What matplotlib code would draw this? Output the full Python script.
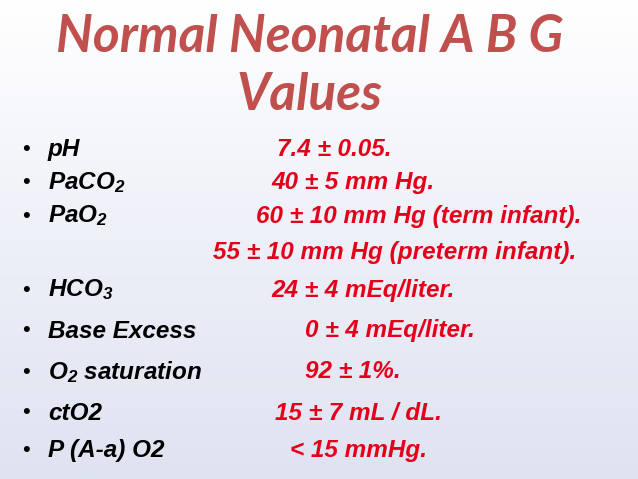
import matplotlib
matplotlib.use("Agg")
import matplotlib.pyplot as plt
import numpy as np
from matplotlib.colors import LinearSegmentedColormap

plt.rcParams['mathtext.default'] = 'regular'

title_lines = ["Normal Neonatal A B G", "Values"]
labels = ["pH", "PaCO$_2$", "PaO$_2$", "", "HCO$_3$", "Base Excess", "O$_2$ saturation", "ctO2", "P (A-a) O2"]
values = ["7.4 ± 0.05.", "40 ± 5 mm Hg.", "60 ± 10 mm Hg (term infant).",
          "55 ± 10 mm Hg (preterm infant).", "24 ± 4 mEq/liter.", "0 ± 4 mEq/liter.",
          "92 ± 1%.", "15 ± 7 mL / dL.", "< 15 mmHg."]
row_y = [150, 183, 216, 252, 290, 331, 372, 413, 451]
value_x = [277, 271, 256, 213, 271, 305, 305, 275, 290]

W, H = 638, 479
fig = plt.figure(figsize=(W/100, H/100), dpi=100)
bg = fig.add_axes([0, 0, 1, 1])
grad = np.linspace(0, 1, 256).reshape(-1, 1)
cm = LinearSegmentedColormap.from_list("g", ["#ffffff", "#eef0f8", "#dfe3f1"])
bg.imshow(grad, aspect="auto", cmap=cm, extent=[0, 1, 0, 1], origin="upper")
bg.axis("off")

def P(x, y):
    return x / W, 1 - y / H

for line, (cx, cy) in zip(title_lines, [(310, 38), (310, 95)]):
    fig.text(*P(cx, cy), line, fontsize=37, color="#C0504D", fontweight="bold",
             style="italic", family="Lato", ha="center", va="center")

for lab, val, y, vx in zip(labels, values, row_y, value_x):
    if lab:
        fig.text(*P(22, y), "•", fontsize=16, family="Liberation Sans", va="center")
        fig.text(*P(48, y), lab, fontsize=17.5, family="Liberation Sans", fontweight="bold",
                 style="italic", va="center", color="black")
    fig.text(*P(vx, y), val, fontsize=17.5, family="Liberation Sans", fontweight="bold",
             style="italic", va="center", color="#E3001B")

fig.savefig("out.png", dpi=100)
